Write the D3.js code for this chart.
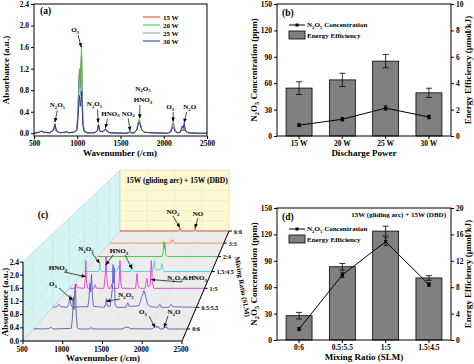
<!DOCTYPE html>
<html>
<head>
<meta charset="utf-8">
<script src="https://cdn.jsdelivr.net/npm/d3@7"></script>
<style>
  body { margin: 0; background: #fff; }
  text { font-family: "Liberation Serif", "Times New Roman", serif; font-weight: bold; fill: #000; }
</style>
</head>
<body>
<svg id="fig" width="474" height="364"></svg>
<script>
// ---------- data ----------
// (a) FTIR spectra at different discharge power
const wnA = [500, 560, 585, 610, 680, 725, 742, 758, 800, 860, 880, 900, 960, 995, 1008, 1018, 1026, 1034, 1042, 1050,
  1057, 1065, 1080, 1120, 1200, 1232, 1246, 1260, 1295, 1312, 1326, 1345, 1380, 1560, 1592, 1606, 1622, 1660, 1690, 1703,
  1716, 1728, 1745, 1775, 1850, 2040, 2080, 2097, 2108, 2118, 2132, 2160, 2190, 2205, 2214, 2224, 2236, 2250, 2280, 2400, 2500];
const absA15 = [0, 0.02, 0.04, 0.02, 0.01, 0.05, 0.16, 0.04, 0.01, 0.02, 0.03, 0.01, 0.02, 0.07, 0.42, 0.95, 1.15, 0.85, 1.2, 1.45,
  0.85, 0.24, 0.04, 0.01, 0.01, 0.04, 0.15, 0.04, 0.03, 0.05, 0.08, 0.03, 0.01, 0, 0.01, 0.03, 0.01, 0.01, 0.07, 0.18,
  0.24, 0.18, 0.06, 0.02, 0.01, 0, 0.04, 0.14, 0.19, 0.15, 0.05, 0.01, 0.02, 0.04, 0.06, 0.04, 0.07, 0.03, 0.01, 0, 0];
const absA20 = [0, 0.02, 0.04, 0.02, 0.01, 0.06, 0.18, 0.05, 0.01, 0.02, 0.03, 0.01, 0.02, 0.07, 0.45, 1.0, 1.2, 0.9, 1.3, 1.62,
  0.9, 0.25, 0.04, 0.01, 0.01, 0.05, 0.17, 0.04, 0.03, 0.06, 0.09, 0.04, 0.01, 0, 0.01, 0.03, 0.01, 0.01, 0.08, 0.2,
  0.26, 0.2, 0.07, 0.02, 0.01, 0, 0.04, 0.15, 0.21, 0.16, 0.05, 0.01, 0.02, 0.06, 0.08, 0.06, 0.1, 0.04, 0.01, 0, 0];
const absA25 = [0, 0.02, 0.04, 0.02, 0.01, 0.06, 0.18, 0.05, 0.01, 0.02, 0.03, 0.01, 0.02, 0.06, 0.35, 0.8, 1.0, 0.7, 0.85, 1.05,
  0.6, 0.2, 0.03, 0.01, 0.01, 0.05, 0.17, 0.04, 0.03, 0.06, 0.09, 0.04, 0.01, 0, 0.01, 0.03, 0.01, 0.01, 0.07, 0.18,
  0.24, 0.19, 0.07, 0.02, 0.01, 0, 0.03, 0.11, 0.15, 0.12, 0.04, 0.01, 0.02, 0.08, 0.11, 0.08, 0.14, 0.05, 0.01, 0, 0];
const absA30 = [0, 0.02, 0.04, 0.02, 0.01, 0.06, 0.17, 0.05, 0.01, 0.02, 0.03, 0.01, 0.02, 0.05, 0.25, 0.55, 0.7, 0.5, 0.6, 0.78,
  0.45, 0.15, 0.03, 0.01, 0.01, 0.05, 0.16, 0.04, 0.03, 0.06, 0.08, 0.04, 0.01, 0, 0.01, 0.03, 0.01, 0.01, 0.06, 0.15,
  0.2, 0.16, 0.06, 0.02, 0.01, 0, 0.02, 0.08, 0.11, 0.09, 0.03, 0.01, 0.02, 0.1, 0.14, 0.1, 0.19, 0.06, 0.01, 0, 0];
const powerLabels = ["15 W", "20 W", "25 W", "30 W"];

// (b) N2O5 concentration (ppm) and energy efficiency (umol/kJ) vs power
const concB = [12.3, 19, 31.7, 21.6];
const concBErr = [1.5, 2, 2.5, 2];
const effB = [3.63, 4.25, 5.67, 3.27];
const effBErr = [0.48, 0.5, 0.5, 0.35];

// (c) spectra vs mixing ratio, [wavenumber, absorbance]
const mixLabels = ["0:6", "0.5:5.5", "1:5", "1.5:4.5", "2:4", "3:3", "6:0"];
const spec06 = [[500, 0], [560, 0.01], [600, 0], [700, 0.01], [725, 0.06], [740, 0.02], [760, 0], [990, 0.02], [1005, 0.3],
  [1018, 1.0], [1026, 0.6], [1036, 1.2], [1045, 1.4], [1056, 0.4], [1070, 0.03], [1100, 0], [1230, 0], [1250, 0.05], [1265, 0],
  [1650, 0], [1700, 0.05], [1730, 0.06], [1760, 0.01], [2040, 0], [2075, 0.06], [2095, 0.1], [2110, 0.04], [2125, 0.09],
  [2145, 0], [2190, 0], [2205, 0.07], [2220, 0.03], [2232, 0.08], [2250, 0], [2500, 0]];
const spec0555 = [[500, 0], [560, 0.02], [585, 0.1], [610, 0.02], [700, 0], [725, 0.1], [740, 0.39], [752, 0.1], [775, 0],
  [880, 0.02], [990, 0.02], [1005, 0.3], [1018, 0.8], [1028, 0.5], [1040, 1.08], [1055, 0.3], [1070, 0.03], [1220, 0],
  [1238, 0.12], [1248, 0.3], [1260, 0.05], [1300, 0.03], [1330, 0.6], [1340, 1.4], [1348, 0.8], [1356, 1.3], [1368, 0.1],
  [1390, 0], [1520, 0], [1545, 0.15], [1565, 0.03], [1700, 0.05], [1740, 0.35], [1770, 0.55], [1790, 0.4], [1820, 0.1],
  [1860, 0.02], [1960, 0], [1990, 0.1], [2010, 0], [2120, 0], [2150, 0.1], [2170, 0.02], [2500, 0]];
const spec15 = [[500, 0], [580, 0], [600, 0.15], [615, 0.02], [720, 0], [733, 0.3], [743, 0.95], [752, 0.2], [770, 0],
  [860, 0], [880, 0.12], [900, 0], [1010, 0], [1028, 0.4], [1042, 1.1], [1055, 0.3], [1075, 0], [1110, 0], [1125, 0.15],
  [1140, 0], [1225, 0], [1238, 0.3], [1248, 0.95], [1258, 0.2], [1280, 0], [1480, 0], [1500, 0.5], [1515, 0.1], [1540, 0],
  [1620, 0], [1645, 0.35], [1665, 0.05], [1695, 0.1], [1712, 0.95], [1728, 0.2], [1750, 0], [2500, 0]];
const spec1545 = [[500, 0], [720, 0], [735, 0.1], [743, 0.28], [752, 0.08], [770, 0], [1010, 0], [1030, 0.12], [1042, 0.21],
  [1055, 0.08], [1075, 0], [1230, 0], [1240, 0.12], [1250, 0.28], [1262, 0.05], [1280, 0], [1570, 0], [1590, 0.2],
  [1600, 0.39], [1612, 0.15], [1650, 0.03], [1700, 0.1], [1718, 0.28], [1735, 0.08], [1760, 0], [2500, 0]];
const spec24 = [[500, 0], [1570, 0], [1592, 0.2], [1602, 0.55], [1610, 0.3], [1618, 0.5], [1632, 0.05], [1660, 0], [2500, 0]];
const spec33 = [[500, 0], [1565, 0], [1582, 0.1], [1592, 0.05], [1604, 0.14], [1620, 0.02], [1640, 0], [2500, 0]];
const spec60 = [[500, 0], [1570, 0], [1590, 0.04], [1600, 0.12], [1612, 0.02], [1630, 0], [1850, 0], [1866, 0.05],
  [1878, 0.1], [1890, 0.04], [1905, 0], [2500, 0]];

// (d) N2O5 concentration and energy efficiency vs mixing ratio
const ratioLabels = ["0:6", "0.5:5.5", "1:5", "1.5:4.5"];
const concD = [12.5, 74, 111.7, 63];
const concDErr = [1.5, 3, 4.4, 2];
const effD = [3.68, 11.1, 16.5, 9.4];
const effDErr = [0.5, 0.5, 0.75, 0.35];

// ---------- helpers ----------
const svg = d3.select("#fig");
svg.append("rect").attr("width", 474).attr("height", 364).attr("fill", "#fff");

svg.append("defs").append("marker")
  .attr("id", "arr").attr("viewBox", "0 0 10 10").attr("refX", 9).attr("refY", 5)
  .attr("markerWidth", 4.5).attr("markerHeight", 4.5).attr("markerUnits", "userSpaceOnUse").attr("orient", "auto")
  .append("path").attr("d", "M0,1 L10,5 L0,9 z").attr("fill", "#000");

// "_" marks the next character as a subscript
function chem(sel, str, fs) {
  const runs = [];
  let i = 0;
  while (i < str.length) {
    if (str[i] === "_") { runs.push({ t: str[i + 1], s: true }); i += 2; }
    else {
      let j = i;
      while (j < str.length && str[j] !== "_") j++;
      runs.push({ t: str.slice(i, j), s: false });
      i = j;
    }
  }
  let prev = false;
  runs.forEach(r => {
    const ts = sel.append("tspan").text(r.t);
    if (r.s) { ts.attr("font-size", fs * 0.7); if (!prev) ts.attr("dy", fs * 0.25); }
    else if (prev) ts.attr("dy", -fs * 0.25);
    prev = r.s;
  });
  return sel;
}

function label(g, str, x, y, fs, anchor, rot) {
  const t = g.append("text").attr("font-size", fs).attr("text-anchor", anchor || "middle");
  if (rot) t.attr("transform", `translate(${x},${y}) rotate(${rot})`);
  else t.attr("x", x).attr("y", y);
  chem(t, str, fs);
  return t;
}

function arrow(g, x1, y1, x2, y2) {
  g.append("line").attr("x1", x1).attr("y1", y1).attr("x2", x2).attr("y2", y2)
    .attr("stroke", "#000").attr("stroke-width", 0.7).attr("marker-end", "url(#arr)");
}

function styleAxis(g) {
  g.select(".domain").remove();
  g.selectAll("line").attr("stroke", "#000");
  g.selectAll("text").attr("font-size", 7.5).attr("fill", "#000");
}

function box(g, x0, y0, x1, y1) {
  g.append("rect").attr("x", x0).attr("y", y0).attr("width", x1 - x0).attr("height", y1 - y0)
    .attr("fill", "none").attr("stroke", "#000").attr("stroke-width", 1);
}

// ---------- (a) ----------
const ga = svg.append("g");
const xA = d3.scaleLinear([500, 2500], [34, 207]);
const yA = d3.scaleLinear([-0.05, 2.4], [136, 4]);
const colA = ["#e8343c", "#3fbf4a", "#7f9fbb", "#2b2e8e"];
const seriesA = [absA15, absA20, absA25, absA30];
const lineA = d3.line().x((d, i) => xA(wnA[i])).y(d => yA(d));
seriesA.forEach((s, k) => {
  ga.append("path").attr("d", lineA(s)).attr("fill", "none").attr("stroke", colA[k]).attr("stroke-width", 0.9);
});
box(ga, 34, 4, 207, 136);
ga.append("g").attr("transform", "translate(0,136)")
  .call(d3.axisBottom(xA).tickValues([500, 1000, 1500, 2000, 2500]).tickFormat(d3.format("d")).tickSize(3).tickPadding(2))
  .call(styleAxis);
ga.append("g").attr("transform", "translate(34,0)")
  .call(d3.axisLeft(yA).tickValues([0, 0.4, 0.8, 1.2, 1.6, 2.0, 2.4]).tickFormat(d3.format(".1f")).tickSize(3).tickPadding(2))
  .call(styleAxis);
label(ga, "Wavenumber (/cm)", 120, 156, 9);
label(ga, "Absorbance (a.u.)", 9, 70, 9, "middle", -90);
label(ga, "(a)", 40, 14, 9.5, "start");
powerLabels.forEach((p, k) => {
  const y = 17 + k * 8;
  ga.append("line").attr("x1", 143).attr("x2", 160).attr("y1", y).attr("y2", y)
    .attr("stroke", colA[k]).attr("stroke-width", 1);
  label(ga, p, 163, y + 2.5, 7, "start");
});
// peak annotations (label anchor and arrow tip in data units)
const annA = [
  { t: "O_3", lw: 975, la: 1.88, tw: 1045, ta: 1.6 },
  { t: "N_2O_5", lw: 770, la: 0.48, tw: 742, ta: 0.21 },
  { t: "N_2O_5", lw: 1200, la: 0.5, tw: 1242, ta: 0.2 },
  { t: "HNO_3", lw: 1385, la: 0.33, tw: 1326, ta: 0.1 },
  { t: "NO_2", lw: 1590, la: 0.33, tw: 1610, ta: 0.05 },
  { t: "N_2O_5", lw: 1760, la: 0.79, tw: null },
  { t: "HNO_3", lw: 1760, la: 0.58, tw: 1722, ta: 0.28 },
  { t: "O_3", lw: 2075, la: 0.45, tw: 2108, ta: 0.22 },
  { t: "N_2O", lw: 2300, la: 0.45, tw: 2236, ta: 0.2 }
];
annA.forEach(a => {
  label(ga, a.t, xA(a.lw), yA(a.la), 7);
  if (a.tw) arrow(ga, xA(a.lw) + (a.tw > a.lw + 30 ? 3 : a.tw < a.lw - 30 ? -3 : 0), yA(a.la) + 3, xA(a.tw), yA(a.ta));
});

// ---------- bar + line panels (b), (d) ----------
function barPanel(g, cats, conc, concErr, eff, effErr, top, bottom, effMax, effStep, xTitle, tag) {
  const x = d3.scaleBand(cats, [277, 451]).paddingInner(0.4).paddingOuter(0.21);
  const y = d3.scaleLinear([0, 150], [bottom, top]);
  const y2 = d3.scaleLinear([0, effMax], [bottom, top]);
  const bw = x.bandwidth();
  cats.forEach((c, i) => {
    g.append("rect").attr("x", x(c)).attr("y", y2(eff[i])).attr("width", bw).attr("height", bottom - y2(eff[i]))
      .attr("fill", "#808080").attr("stroke", "#000").attr("stroke-width", 0.8);
    const cx = x(c) + bw / 2;
    g.append("line").attr("x1", cx).attr("x2", cx).attr("y1", y2(eff[i] + effErr[i])).attr("y2", y2(eff[i] - effErr[i]))
      .attr("stroke", "#000").attr("stroke-width", 0.8);
    [eff[i] + effErr[i], eff[i] - effErr[i]].forEach(v => g.append("line").attr("x1", cx - 3).attr("x2", cx + 3)
      .attr("y1", y2(v)).attr("y2", y2(v)).attr("stroke", "#000").attr("stroke-width", 0.8));
  });
  const ln = d3.line().x((d, i) => x(cats[i]) + bw / 2).y(d => y(d));
  g.append("path").attr("d", ln(conc)).attr("fill", "none").attr("stroke", "#000").attr("stroke-width", 1);
  cats.forEach((c, i) => {
    const cx = x(c) + bw / 2;
    g.append("line").attr("x1", cx).attr("x2", cx).attr("y1", y(conc[i] + concErr[i])).attr("y2", y(conc[i] - concErr[i]))
      .attr("stroke", "#000").attr("stroke-width", 0.8);
    [conc[i] + concErr[i], conc[i] - concErr[i]].forEach(v => g.append("line").attr("x1", cx - 2).attr("x2", cx + 2)
      .attr("y1", y(v)).attr("y2", y(v)).attr("stroke", "#000").attr("stroke-width", 0.8));
    g.append("rect").attr("x", cx - 1.6).attr("y", y(conc[i]) - 1.6).attr("width", 3.2).attr("height", 3.2).attr("fill", "#000");
  });
  box(g, 277, top, 451, bottom);
  g.append("g").attr("transform", `translate(0,${bottom})`)
    .call(d3.axisBottom(x).tickSize(3).tickPadding(2)).call(styleAxis);
  g.append("g").attr("transform", "translate(277,0)")
    .call(d3.axisLeft(y).tickValues([0, 30, 60, 90, 120, 150]).tickSize(3).tickPadding(2)).call(styleAxis);
  g.append("g").attr("transform", "translate(451,0)")
    .call(d3.axisRight(y2).tickValues(d3.range(0, effMax + 0.01, effStep)).tickSize(3).tickPadding(2)).call(styleAxis);
  const mid = (top + bottom) / 2;
  label(g, "N_2O_5 Concentration (ppm)", 257, mid, 9, "middle", -90);
  label(g, "Energy Efficiency (\u03bcmol/kJ)", 471, mid, 9, "middle", -90);
  label(g, xTitle, 364, bottom + 20, 9);
  label(g, tag, 282, top + 12, 9.5, "start");
  // legend
  const ly = top + 21;
  g.append("line").attr("x1", 289).attr("x2", 305).attr("y1", ly).attr("y2", ly).attr("stroke", "#000").attr("stroke-width", 1);
  g.append("rect").attr("x", 295.5).attr("y", ly - 1.5).attr("width", 3).attr("height", 3).attr("fill", "#000");
  label(g, "N_2O_5 Concentration", 307, ly + 2, 7, "start");
  g.append("rect").attr("x", 289).attr("y", ly + 6).attr("width", 16).attr("height", 8)
    .attr("fill", "#808080").attr("stroke", "#000").attr("stroke-width", 0.8);
  label(g, "Energy Efficiency", 307, ly + 12.5, 7, "start");
}

barPanel(svg.append("g"), powerLabels, concB, concBErr, effB, effBErr, 4, 136, 10, 2, "Discharge Power", "(b)");
const gd = svg.append("g");
barPanel(gd, ratioLabels, concD, concDErr, effD, effDErr, 208, 340, 20, 4, "Mixing Ratio (SLM)", "(d)");
label(gd, "15W (gliding arc) + 15W (DBD)", 446, 217, 7, "end");

// ---------- (c) 3D waterfall ----------
const gc = svg.append("g");
const C = { x0: 23, xR: 182, xBL: 120, xBR: 229, yF: 341, yBk: 231, h: 79, hk: 0.77, persp: 0.47 };
const uC = d3.scaleLinear([500, 2500], [0, 1]);
const vC = d3.scaleLinear([0, 2.4], [0, 1]);
const tC = d3.scaleLinear([-0.5, mixLabels.length - 1], [0, 1]);
const k1 = 1 / (1 + C.persp);
function P(wn, ab, t) {
  const k = 1 / (1 + C.persp * t);
  const p = (1 - k) / (1 - k1);
  const xl = C.x0 + (C.xBL - C.x0) * p;
  const xr = C.xR + (C.xBR - C.xR) * p;
  return [xl + uC(wn) * (xr - xl), C.yF + (C.yBk - C.yF) * p - vC(ab) * C.h * (1 - (1 - C.hk) * p)];
}
const poly = pts => "M" + pts.map(p => p.join(",")).join("L") + "Z";
// walls and floor
gc.append("path").attr("d", poly([P(500, 0, 0), P(500, 2.4, 0), P(500, 2.4, 1), P(500, 0, 1)]))
  .attr("fill", "#d6f4f3").attr("stroke", "#9fd6d6").attr("stroke-width", 0.6);
gc.append("path").attr("d", poly([P(500, 0, 1), P(500, 2.4, 1), P(2500, 2.4, 1), P(2500, 0, 1)]))
  .attr("fill", "#fcf9d3").attr("stroke", "#d8d3a0").attr("stroke-width", 0.6);
gc.append("path").attr("d", poly([P(500, 0, 0), P(2500, 0, 0), P(2500, 0, 1), P(500, 0, 1)]))
  .attr("fill", "#ececec").attr("stroke", "#c8c8c8").attr("stroke-width", 0.6);
// grid lines
const absTicks = [0, 0.4, 0.8, 1.2, 1.6, 2.0, 2.4];
const wnTicks = [500, 1000, 1500, 2000, 2500];
mixLabels.forEach((m, i) => {
  const a = P(500, 0, tC(i)), b = P(500, 2.4, tC(i));
  gc.append("line").attr("x1", a[0]).attr("y1", a[1]).attr("x2", b[0]).attr("y2", b[1]).attr("stroke", "#b2e2e2").attr("stroke-width", 0.5);
});
absTicks.slice(1, -1).forEach(v => {
  const a = P(500, v, 0), b = P(500, v, 1);
  gc.append("line").attr("x1", a[0]).attr("y1", a[1]).attr("x2", b[0]).attr("y2", b[1]).attr("stroke", "#b8e4e4").attr("stroke-width", 0.4);
  const c = P(2500, v, 1), d = P(500, v, 1);
  gc.append("line").attr("x1", c[0]).attr("y1", c[1]).attr("x2", d[0]).attr("y2", d[1]).attr("stroke", "#e6e0b0").attr("stroke-width", 0.4);
});
wnTicks.slice(1, -1).forEach(w => {
  const a = P(w, 0, 1), b = P(w, 2.4, 1), c = P(w, 0, 0);
  gc.append("line").attr("x1", a[0]).attr("y1", a[1]).attr("x2", b[0]).attr("y2", b[1]).attr("stroke", "#e6e0b0").attr("stroke-width", 0.4);
  gc.append("line").attr("x1", a[0]).attr("y1", a[1]).attr("x2", c[0]).attr("y2", c[1]).attr("stroke", "#dadada").attr("stroke-width", 0.4);
});
// spectra back to front
const specs = [spec06, spec0555, spec15, spec1545, spec24, spec33, spec60];
const colC = ["#56609a", "#5a5fcf", "#e23fd0", "#3fd5d5", "#3cc43c", "#f2904c", "#e24848"];
for (let i = specs.length - 1; i >= 0; i--) {
  const t = tC(i);
  const ln = d3.line().x(d => P(d[0], d[1], t)[0]).y(d => P(d[0], d[1], t)[1]);
  gc.append("path").attr("d", ln(specs[i])).attr("fill", "none").attr("stroke", colC[i]).attr("stroke-width", 0.9);
}
// axes
const f0 = P(500, 0, 0), f1 = P(2500, 0, 0), f2 = P(2500, 0, 1), fTop = P(500, 2.4, 0);
gc.append("line").attr("x1", f0[0]).attr("y1", f0[1]).attr("x2", f1[0]).attr("y2", f1[1]).attr("stroke", "#000");
gc.append("line").attr("x1", f0[0]).attr("y1", f0[1]).attr("x2", fTop[0]).attr("y2", fTop[1]).attr("stroke", "#000");
gc.append("line").attr("x1", f1[0]).attr("y1", f1[1]).attr("x2", f2[0]).attr("y2", f2[1]).attr("stroke", "#000");
absTicks.forEach(v => {
  const p = P(500, v, 0);
  gc.append("line").attr("x1", p[0] - 3).attr("x2", p[0]).attr("y1", p[1]).attr("y2", p[1]).attr("stroke", "#000");
  gc.append("text").attr("x", p[0] - 4).attr("y", p[1] + 2.6).attr("text-anchor", "end").attr("font-size", 7.5).text(d3.format(".1f")(v));
});
wnTicks.forEach(w => {
  const p = P(w, 0, 0);
  gc.append("line").attr("x1", p[0]).attr("x2", p[0]).attr("y1", p[1]).attr("y2", p[1] + 3).attr("stroke", "#000");
  gc.append("text").attr("x", p[0] - 1).attr("y", p[1] + 11).attr("text-anchor", "middle").attr("font-size", 7.5).text(w);
});
mixLabels.forEach((m, i) => {
  const p = P(2500, 0, tC(i));
  gc.append("line").attr("x1", p[0]).attr("x2", p[0] + 3).attr("y1", p[1]).attr("y2", p[1]).attr("stroke", "#000");
  gc.append("text").attr("x", p[0] + 5).attr("y", p[1] + 2.5).attr("font-size", 6).text(m);
});
label(gc, "Wavenumber (/cm)", 103, 361, 9);
label(gc, "Absorbance (a.u.)", 8, 302, 9, "middle", -90);
label(gc, "Mixing Ratio (SLM)", 240, 287, 7, "middle", 80);
label(gc, "(c)", 43, 218, 9.5, "middle");
label(gc, "15W (gliding arc) + 15W (DBD)", 177, 183, 7.5);
// peak annotations: label in screen px, tip on a spectrum [wn, abs, spectrum index]
const annC = [
  { t: "NO_2", x: 173, y: 214, tip: [1596, 0.14, 6] },
  { t: "NO", x: 198, y: 216, tip: [1876, 0.12, 6] },
  { t: "N_2O_5", x: 86, y: 251, tip: [740, 0.3, 3] },
  { t: "HNO_3", x: 119, y: 253, tip: [1040, 0.8, 2] },
  { t: "", x: 119, y: 253, tip: [1248, 0.1, 3] },
  { t: "HNO_3", x: 58, y: 270, tip: [738, 0.4, 2] },
  { t: "O_3", x: 53, y: 286, tip: [1010, 0.9, 0] },
  { t: "N_2O_5&HNO_3", x: 187, y: 280, tip: [1712, 0.3, 2] },
  { t: "N_2O_5", x: 126, y: 297, tip: [1248, 0.2, 1] },
  { t: "O_3", x: 143, y: 314, tip: [2080, 0.05, 0] },
  { t: "N_2O", x: 174, y: 314, tip: [2200, 0.05, 0] }
];
annC.forEach(a => {
  if (a.t) label(gc, a.t, a.x, a.y, 7);
  const tp = P(a.tip[0], a.tip[1], tC(a.tip[2]));
  const sx = tp[0] > a.x + 8 ? a.x + 6 : tp[0] < a.x - 8 ? a.x - 6 : a.x;
  arrow(gc, sx, a.y + 2, tp[0], tp[1]);
});
</script>
</body>
</html>
